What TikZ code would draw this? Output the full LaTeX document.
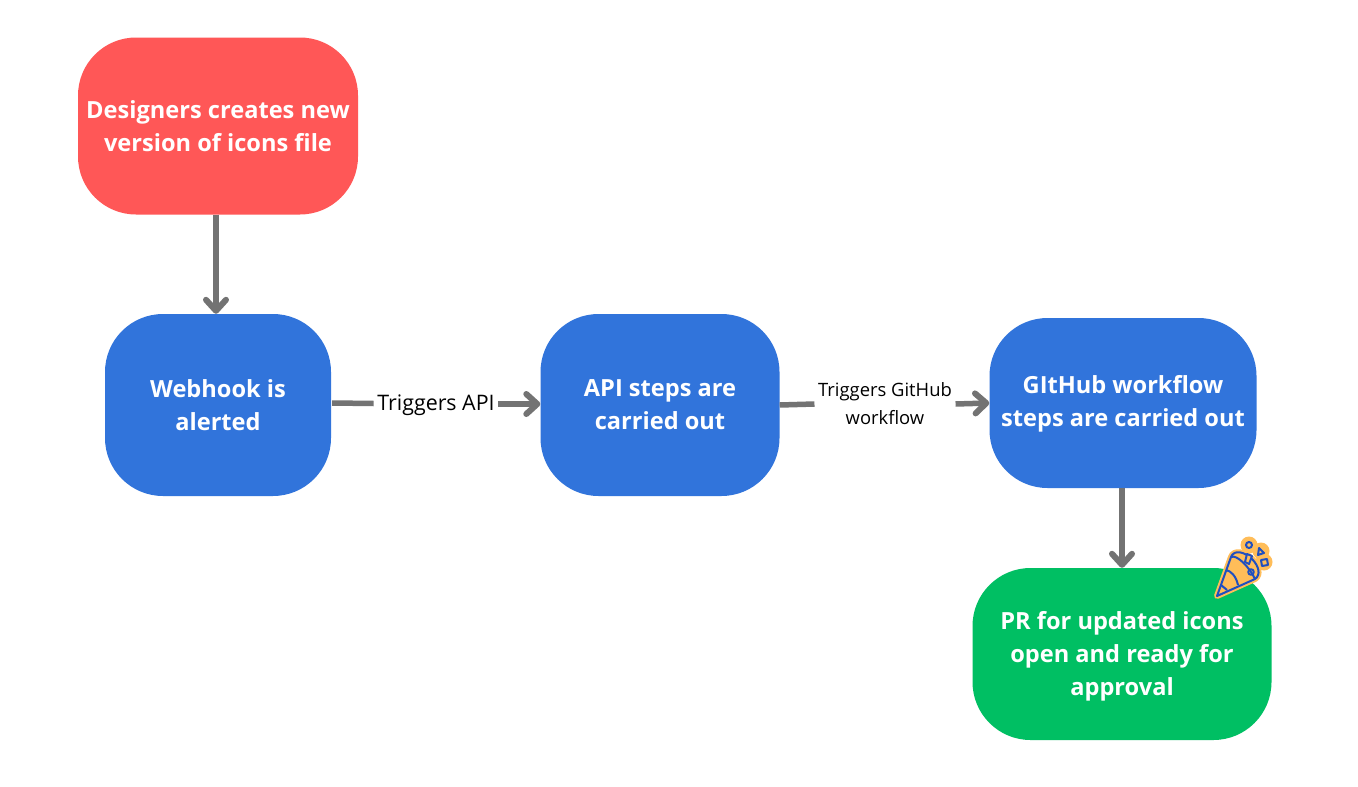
\documentclass[tikz,border=0pt]{standalone}
\usepackage{fontspec}
\setmainfont{Open Sans}
\usetikzlibrary{arrows.meta}
\definecolor{cred}{HTML}{FF5757}
\definecolor{cblue}{HTML}{3174DB}
\definecolor{cgreen}{HTML}{00BF63}
\definecolor{cgrey}{HTML}{737373}
\definecolor{corange}{HTML}{FFBD59}
\definecolor{cicon}{HTML}{1F4FC0}
\tikzset{x=1pt,y=-1pt,
 flowbox/.style={rounded corners=58pt,minimum width=#1,inner sep=0pt,align=center,text=white,font=\fontsize{23.6}{33}\selectfont\bfseries},
 conn/.style={draw=cgrey,line width=5.5pt,-{Straight Barb[length=11pt,width=20pt,line width=6pt,round]}},
 seg/.style={draw=cgrey,line width=5.5pt},
 lbl/.style={inner sep=3.5pt,align=center,text=black},
 halo/.style={draw=corange,line width=6pt,line join=round,fill=corange},
 iconline/.style={draw=cicon,line width=2pt,line join=round}}
\begin{document}
\begin{tikzpicture}
\useasboundingbox (0,0) rectangle (1358,787);
\fill[white] (0,0) rectangle (1358,787);
\node[flowbox=280pt,minimum height=177pt,fill=cred] (a) at (218,126) {Designers creates new\\version of icons file};
\node[flowbox=226pt,minimum height=182pt,fill=cblue] (b) at (218,405) {Webhook is\\alerted};
\node[flowbox=239pt,minimum height=182pt,fill=cblue] (c) at (660,405) {API steps are\\carried out};
\node[flowbox=267pt,minimum height=170pt,fill=cblue] (d) at (1123,403) {\rule{0pt}{20pt}GItHub workflow\\steps are carried out};
\node[flowbox=299pt,minimum height=172pt,fill=cgreen] (e) at (1122,654) {\rule{0pt}{22pt}PR for updated icons\\open and ready for\\approval};
\node[lbl,font=\fontsize{21.4}{28}\selectfont] (l1) at (436,405.5) {Triggers API};
\node[lbl,font=\fontsize{18.4}{28}\selectfont] (l2) at (885,404) {Triggers GitHub\\workflow};
\draw[conn] ([xshift=-2pt]a.south) -- ([xshift=-2pt]b.north);
\draw[seg] ([xshift=1pt,yshift=2pt]b.east) -- ([yshift=2pt]l1.west);
\draw[conn] ([yshift=1.5pt]l1.east) -- ([yshift=1pt]c.west);
\draw[seg] (c.east) -- (l2.west);
\draw[conn] (l2.east) -- (d.west);
\draw[conn] ([xshift=-1pt]d.south) -- (e.north);
% party-popper icon
\begin{scope}[shift={(0,1)}]
\draw[halo] (1217,595) -- (1231,556) .. controls (1234,548) and (1245,551) .. (1252,558) .. controls (1259,565) and (1261,574) .. (1255,578) -- cycle;
\fill[corange] (1249,544) circle (8.5pt);
\fill[corange] (1261,550) circle (8.5pt);
\fill[corange] (1264,561) circle (8.5pt);
\draw[iconline] (1217,595) -- (1231,556) .. controls (1234,548) and (1245,551) .. (1252,558) .. controls (1259,565) and (1261,574) .. (1255,578) -- cycle;
\draw[iconline] (1231,556) .. controls (1237,553) and (1250,567) .. (1255,578);
\draw[iconline] (1226,569) .. controls (1231,570) and (1236,575) .. (1238,584);
\draw[iconline] (1221,584) -- (1227,589);
\draw[iconline,fill=corange] (1247,553) -- (1252,555) -- (1249,563) -- (1245,561) -- cycle;
\draw[iconline] (1251,571) circle (2.8pt);
\draw[iconline] (1249,544) circle (3pt);
\draw[iconline] (1259,547) -- (1264,552) -- (1258,554) -- cycle;
\draw[iconline] (1261,559) -- (1267,558) -- (1268,564) -- (1262,565) -- cycle;
\end{scope}
\end{tikzpicture}
\end{document}
